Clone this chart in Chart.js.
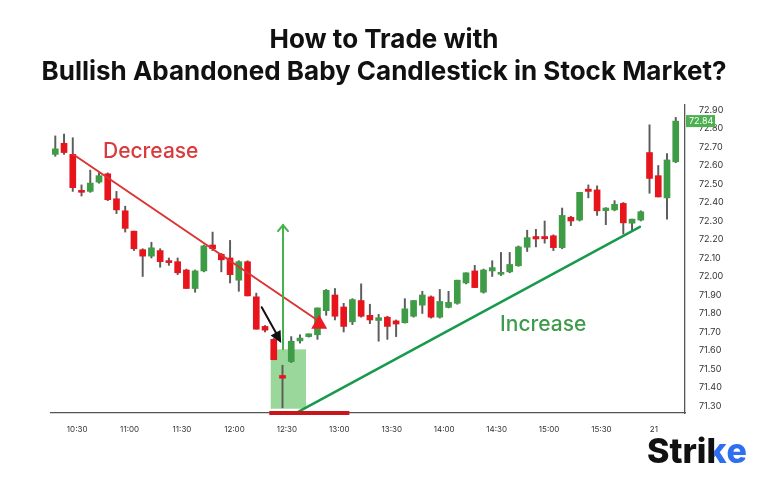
<!DOCTYPE html>
<html>
<head>
<meta charset="utf-8">
<script src="https://cdn.jsdelivr.net/npm/chart.js@4.4.1/dist/chart.umd.min.js"></script>
<style>
  html, body { margin: 0; padding: 0; background: #ffffff; }
  #wrap { width: 768px; height: 480px; }
</style>
</head>
<body>
<div id="wrap"><canvas id="chart" width="768" height="480"></canvas></div>
<script>
// 5-minute candles; the last four belong to the next session (day 21)
const times = [
  '10:20','10:25','10:30','10:35','10:40','10:45','10:50','10:55',
  '11:00','11:05','11:10','11:15','11:20','11:25','11:30','11:35','11:40','11:45','11:50','11:55',
  '12:00','12:05','12:10','12:15','12:20','12:25','12:30','12:35','12:40','12:45','12:50','12:55',
  '13:00','13:05','13:10','13:15','13:20','13:25','13:30','13:35','13:40','13:45','13:50','13:55',
  '14:00','14:05','14:10','14:15','14:20','14:25','14:30','14:35','14:40','14:45','14:50','14:55',
  '15:00','15:05','15:10','15:15','15:20','15:25','15:30','15:35','15:40','15:45','15:50','15:55',
  '21','09:20','09:25','09:30'
];
const opens = [
  72.66, 72.72, 72.66, 72.465, 72.46, 72.51, 72.555, 72.42, 72.355, 72.245,
  72.145, 72.11, 72.14, 72.085, 72.08, 72.035, 71.935, 72.03, 72.17, 72.12,
  72.10, 71.98, 72.08, 71.89, 71.73, 71.66, 71.465, 71.54, 71.652, 71.675,
  71.685, 71.815, 71.90, 71.835, 71.755, 71.87, 71.79, 71.762, 71.78, 71.76,
  71.75, 71.785, 71.845, 71.89, 71.78, 71.833, 71.855, 71.965, 72.03, 71.915,
  72.03, 72.012, 72.025, 72.058, 72.158, 72.216, 72.216, 72.22, 72.156, 72.32,
  72.305, 72.472, 72.468, 72.356, 72.36, 72.395, 72.288, 72.305,
  72.67, 72.545, 72.425, 72.62
];
const highs = [
  72.76, 72.77, 72.75, 72.495, 72.575, 72.56, 72.56, 72.46, 72.38, 72.245,
  72.15, 72.185, 72.15, 72.10, 72.10, 72.04, 72.035, 72.17, 72.24, 72.125,
  72.195, 72.085, 72.085, 71.91, 71.735, 71.665, 71.52, 71.675, 71.685, 71.69,
  71.83, 71.93, 71.935, 71.855, 71.88, 71.96, 71.85, 71.795, 71.785, 71.765,
  71.88, 71.87, 71.92, 71.895, 71.93, 71.92, 71.98, 72.02, 72.06, 72.04,
  72.085, 72.13, 72.13, 72.165, 72.25, 72.255, 72.30, 72.225, 72.37, 72.325,
  72.455, 72.495, 72.49, 72.372, 72.41, 72.40, 72.31, 72.355,
  72.82, 72.60, 72.665, 72.86
];
const lows = [
  72.65, 72.66, 72.46, 72.435, 72.455, 72.505, 72.41, 72.34, 72.24, 72.14,
  72.00, 72.10, 72.05, 72.06, 72.01, 71.935, 71.915, 72.025, 72.14, 72.025,
  71.965, 71.92, 71.895, 71.715, 71.70, 71.55, 71.29, 71.535, 71.64, 71.672,
  71.66, 71.79, 71.765, 71.70, 71.74, 71.78, 71.745, 71.65, 71.66, 71.675,
  71.748, 71.78, 71.80, 71.775, 71.775, 71.83, 71.85, 71.96, 71.94, 71.91,
  72.00, 72.005, 72.02, 72.055, 72.135, 72.16, 72.18, 72.14, 72.15, 72.275,
  72.30, 72.425, 72.33, 72.28, 72.355, 72.23, 72.25, 72.30,
  72.45, 72.43, 72.31, 72.615
];
const closes = [
  72.69, 72.67, 72.48, 72.455, 72.505, 72.545, 72.415, 72.36, 72.26, 72.15,
  72.11, 72.155, 72.08, 72.075, 72.02, 71.935, 72.03, 72.165, 72.15, 72.09,
  72.01, 72.08, 71.895, 71.715, 71.71, 71.55, 71.45, 71.65, 71.667, 71.69,
  71.83, 71.925, 71.785, 71.73, 71.875, 71.785, 71.765, 71.777, 71.73, 71.743,
  71.825, 71.87, 71.90, 71.78, 71.865, 71.86, 71.98, 72.02, 71.94, 72.035,
  72.048, 72.022, 72.065, 72.16, 72.21, 72.203, 72.204, 72.156, 72.33, 72.30,
  72.455, 72.46, 72.355, 72.37, 72.39, 72.29, 72.31, 72.35,
  72.53, 72.43, 72.63, 72.84
];
const timeTicks = ['10:30','11:00','11:30','12:00','12:30','13:00','13:30','14:00','14:30','15:00','15:30','21'];
const priceTicks = [71.3, 71.4, 71.5, 71.6, 71.7, 71.8, 71.9, 72.0, 72.1, 72.2, 72.3, 72.4, 72.5, 72.6, 72.7, 72.8, 72.9];

const UP = '#3d9c45';
const DOWN = '#e8141c';

// candle n sits at x = n (1-based); time labels fall on the half step after it
const bodies = opens.map((o, i) => ({ x: i + 1, y: [o, closes[i]] }));
const wicks = lows.map((l, i) => ({ x: i + 1, y: [l, highs[i]] }));
const bodyColors = opens.map((o, i) => closes[i] >= o ? UP : DOWN);
const xTickValues = [];
times.forEach((t, i) => { if (timeTicks.includes(t)) xTickValues.push(i + 1.5); });

function arrowHead(ctx, x1, y1, x2, y2, size, color) {
  const a = Math.atan2(y2 - y1, x2 - x1);
  ctx.save();
  ctx.fillStyle = color;
  ctx.beginPath();
  ctx.moveTo(x2, y2);
  ctx.lineTo(x2 - size * Math.cos(a - 0.45), y2 - size * Math.sin(a - 0.45));
  ctx.lineTo(x2 - size * Math.cos(a + 0.45), y2 - size * Math.sin(a + 0.45));
  ctx.closePath();
  ctx.fill();
  ctx.restore();
}

const patternMarks = {
  id: 'patternMarks',
  beforeDatasetsDraw(chart) {
    const { ctx, scales: { x, y } } = chart;
    // shaded zone around the abandoned baby
    ctx.save();
    ctx.fillStyle = 'rgba(92, 190, 92, 0.62)';
    const l = x.getPixelForValue(25.65), r = x.getPixelForValue(29.69);
    const t = y.getPixelForValue(71.606), b = y.getPixelForValue(71.285);
    ctx.fillRect(l, t, r - l, b - t);
    ctx.restore();
  },
  afterDatasetsDraw(chart) {
    const { ctx, scales: { x, y } } = chart;
    const P = (i, v) => [x.getPixelForValue(i), y.getPixelForValue(v)];
    ctx.save();
    ctx.lineCap = 'round';

    // downtrend line ending in a triangle marker
    let [ax, ay] = P(3.03, 72.661), [bx, by] = P(30.8, 71.77);
    ctx.strokeStyle = '#dd3333';
    ctx.lineWidth = 2;
    ctx.beginPath(); ctx.moveTo(ax, ay); ctx.lineTo(bx, by); ctx.stroke();
    const [tx, ty] = P(31.2, 71.75);
    ctx.fillStyle = '#ec1c24';
    ctx.beginPath();
    ctx.moveTo(tx, ty - 8); ctx.lineTo(tx + 8, ty + 6); ctx.lineTo(tx - 8, ty + 6);
    ctx.closePath(); ctx.fill();

    // uptrend line
    [ax, ay] = P(28.63, 71.264); [bx, by] = P(67.9, 72.268);
    ctx.strokeStyle = '#179a4c';
    ctx.lineWidth = 2.5;
    ctx.beginPath(); ctx.moveTo(ax, ay); ctx.lineTo(bx, by); ctx.stroke();

    // upward arrow from the shaded zone
    [ax, ay] = P(27.06, 71.606); [bx, by] = P(27.06, 72.278);
    ctx.strokeStyle = '#45b24d';
    ctx.lineWidth = 2;
    ctx.beginPath(); ctx.moveTo(ax, ay); ctx.lineTo(bx, by); ctx.stroke();
    ctx.beginPath();
    ctx.moveTo(bx - 5, by + 6); ctx.lineTo(bx, by); ctx.lineTo(bx + 5, by + 6);
    ctx.stroke();

    // black pointer at the gap
    [ax, ay] = P(24.62, 71.834); [bx, by] = P(26.85, 71.64);
    ctx.strokeStyle = '#111111';
    ctx.lineWidth = 2;
    ctx.beginPath(); ctx.moveTo(ax, ay); ctx.lineTo(bx - 4, by - 8); ctx.stroke();
    arrowHead(ctx, ax, ay, bx, by, 13, '#111111');

    // base bar under the reversal
    const l = x.getPixelForValue(25.49), r = x.getPixelForValue(34.65);
    ctx.fillStyle = '#c8161d';
    ctx.fillRect(l, y.bottom - 2, r - l, 4);

    // captions
    ctx.textBaseline = 'middle';
    ctx.textAlign = 'left';
    ctx.font = '500 21px Inter, "Open Sans", sans-serif';
    ctx.fillStyle = '#d93a3c';
    let [cx, cy] = P(6.46, 72.673);
    ctx.fillText('Decrease', cx, cy);
    ctx.fillStyle = '#3f9b4c';
    [cx, cy] = P(51.9, 71.738);
    ctx.fillText('Increase', cx, cy);
    ctx.restore();
  },
  afterDraw(chart) {
    const { ctx, scales: { y }, chartArea } = chart;
    // last price tag on the price axis
    const last = closes[closes.length - 1];
    const py = y.getPixelForValue(last);
    ctx.save();
    ctx.fillStyle = '#4caf50';
    ctx.fillRect(chartArea.right + 1, py - 6, 29, 12);
    ctx.fillStyle = '#ffffff';
    ctx.font = '9px Inter, sans-serif';
    ctx.textBaseline = 'middle';
    ctx.textAlign = 'left';
    ctx.fillText(last.toFixed(2), chartArea.right + 4, py + 0.5);

    // brand mark
    ctx.font = '800 34px Inter, sans-serif';
    ctx.textBaseline = 'alphabetic';
    const bx = 647, by = 463;
    const w1 = ctx.measureText('Stri').width;
    const wk = ctx.measureText('k').width;
    ctx.fillStyle = '#111111';
    ctx.fillText('Stri', bx, by);
    ctx.save();
    ctx.beginPath(); ctx.rect(bx + w1, by - 40, wk * 0.38, 50); ctx.clip();
    ctx.fillText('k', bx + w1, by);
    ctx.restore();
    ctx.save();
    ctx.beginPath(); ctx.rect(bx + w1 + wk * 0.38, by - 40, wk, 50); ctx.clip();
    ctx.fillStyle = '#2e6ff2';
    ctx.fillText('k', bx + w1, by);
    ctx.restore();
    ctx.fillStyle = '#2e6ff2';
    ctx.fillText('e', bx + w1 + wk, by);
    ctx.restore();
  }
};

new Chart(document.getElementById('chart'), {
  type: 'bar',
  data: {
    datasets: [
      {
        label: 'Body',
        data: bodies,
        backgroundColor: bodyColors,
        borderWidth: 0,
        barThickness: 6,
        minBarLength: 2,
        grouped: false,
        order: 1
      },
      {
        label: 'Range',
        data: wicks,
        backgroundColor: '#5c5c5c',
        borderWidth: 0,
        barThickness: 1.3,
        grouped: false,
        order: 2
      }
    ]
  },
  options: {
    responsive: false,
    animation: false,
    devicePixelRatio: 1,
    layout: { padding: 0 },
    plugins: {
      legend: { display: false },
      tooltip: { enabled: false },
      title: {
        display: true,
        text: ['How to Trade with', 'Bullish Abandoned Baby Candlestick in Stock Market?'],
        color: '#111111',
        font: { family: 'Inter, "Open Sans", sans-serif', size: 26, weight: '700', lineHeight: 32 / 26 },
        padding: { top: 24, bottom: 17 }
      }
    },
    scales: {
      x: {
        type: 'linear',
        min: 0.508,
        max: 73.06,
        offset: false,
        grid: { display: false, offset: false },
        border: { display: true, color: '#555555', width: 1.3 },
        afterBuildTicks: s => { s.ticks = xTickValues.map(v => ({ value: v })); },
        afterFit: s => { s.height = 480 - 413; },
        ticks: {
          autoSkip: false,
          maxRotation: 0,
          padding: 4,
          color: '#333333',
          font: { family: 'Inter, sans-serif', size: 8 },
          callback: v => times[Math.round(v - 1.5)]
        }
      },
      y: {
        position: 'right',
        min: 71.262,
        max: 72.927,
        grid: { display: false },
        border: { display: true, color: '#555555', width: 1.3 },
        afterBuildTicks: s => { s.ticks = priceTicks.map(v => ({ value: v })); },
        afterFit: s => { s.width = 768 - 685; },
        ticks: {
          padding: 6,
          color: '#333333',
          font: { family: 'Inter, sans-serif', size: 9 },
          callback: v => v.toFixed(2)
        }
      },
      // empty margin on the left of the plot
      yMargin: {
        position: 'left',
        min: 71.262,
        max: 72.927,
        grid: { display: false },
        border: { display: false },
        ticks: { display: false },
        afterFit: s => { s.width = 51; }
      }
    }
  },
  plugins: [patternMarks]
});
</script>
</body>
</html>
